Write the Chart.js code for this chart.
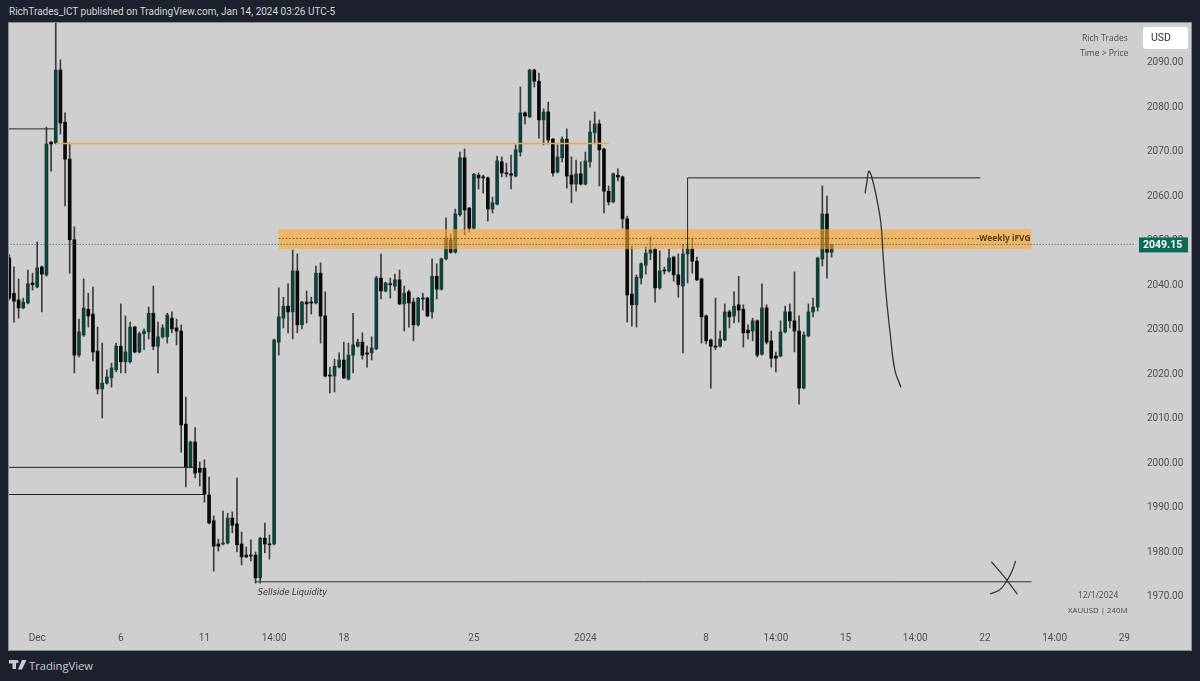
<!DOCTYPE html>
<html>
<head>
<meta charset="utf-8">
<title>XAUUSD 240M</title>
<script src="https://cdn.jsdelivr.net/npm/chart.js@4"></script>
<style>
    html, body { margin: 0; padding: 0; width: 1200px; height: 681px; overflow: hidden; background: #1c212d; }
    #publishLine { position: absolute; left: 9px; top: 6px; font: 10px Roboto, sans-serif; color: #d3d6da; white-space: nowrap; }
    #panel { position: absolute; left: 9px; top: 23px; width: 1182px; height: 627px; background: #cfcfcf; outline: 1px solid #8b8d92; }
    #logo { position: absolute; left: 9px; top: 660px; }
    #brand { position: absolute; left: 29px; top: 658px; font: 11.2px "Open Sans", sans-serif; color: #c9ccd2; }
</style>
</head>
<body>
<div id="publishLine">RichTrades_ICT published on TradingView.com, Jan 14, 2024 03:26 UTC-5</div>
<div id="panel"><canvas id="priceChart" width="1182" height="627"></canvas></div>
<svg id="logo" width="18" height="10" viewBox="0 0 18 10"><path fill="#c9ccd2" d="M0 0h7v9H3.5V3.5H0zM8 0a1.6 1.6 0 1 1 0 3.2A1.6 1.6 0 0 1 8 0zM13 0h4.5L13 9.500H9z"/></svg>
<div id="brand">TradingView</div>
<script>
// XAUUSD 240M candles
const opens = [
    2046.1,2038.2,2036.7,2034.9,2036.0,2040.5,2039.6,2044.1,2042.3,2072.1,
    2071.9,2088.3,2076.6,2068.3,2050.2,2024.3,2028.8,2034.6,2033.5,2025.2,
    2016.7,2018.0,2019.2,2021.0,2026.3,2022.8,2022.8,2030.6,2025.0,2029.1,
    2029.5,2033.7,2026.3,2028.4,2028.4,2032.6,2030.4,2029.7,2008.8,1999.2,
    2004.8,1998.9,1998.9,1992.9,1987.1,1981.9,1981.9,1982.1,1987.7,1986.4,
    1981.9,1979.4,1979.4,1979.4,1974.3,1983.2,1981.9,1981.9,2027.2,2032.6,
    2035.3,2034.0,2043.2,2031.1,2036.2,2036.2,2036.0,2042.7,2033.1,2019.8,
    2019.6,2021.6,2023.2,2018.9,2024.3,2026.3,2027.2,2024.8,2024.8,2025.7,
    2041.6,2038.7,2040.3,2039.8,2041.2,2035.8,2038.5,2036.2,2031.1,2037.1,
    2037.1,2034.0,2042.0,2039.1,2045.9,2050.2,2047.4,2055.8,2068.6,2057.3,
    2052.8,2064.7,2064.3,2064.1,2057.1,2058.2,2067.7,2065.2,2065.0,2064.5,
    2069.9,2078.7,2077.8,2088.3,2085.8,2077.1,2078.9,2072.8,2065.4,2068.6,
    2072.8,2064.7,2062.7,2065.0,2062.7,2067.7,2074.2,2076.2,2070.6,2061.1,
    2058.7,2064.7,2064.3,2054.9,2038.0,2035.6,2041.6,2044.5,2047.2,2048.1,
    2039.4,2043.4,2043.2,2046.3,2042.3,2039.8,2047.0,2048.1,2045.4,2041.4,
    2033.1,2027.7,2026.3,2026.3,2027.7,2034.0,2033.1,2035.6,2034.6,2029.9,
    2029.7,2032.0,2024.5,2034.9,2027.5,2024.1,2024.1,2029.5,2034.0,2032.0,
    2029.7,2016.9,2028.6,2034.0,2035.1,2045.9,2056.0,2047.4
];
const highs = [
    2046.8,2044.1,2041.4,2037.1,2043.4,2042.7,2049.7,2044.3,2075.5,2072.3,
    2103.0,2090.6,2078.7,2071.9,2053.1,2032.4,2041.4,2038.2,2039.6,2030.6,
    2027.0,2021.0,2022.5,2027.0,2035.8,2033.1,2031.7,2030.8,2029.5,2030.2,
    2035.1,2039.8,2031.7,2031.1,2033.7,2034.0,2032.4,2031.1,2014.9,2005.0,
    2008.0,2000.3,2000.8,1996.9,1988.2,1983.0,1989.3,1988.8,1989.1,1996.7,
    1984.6,1981.2,1982.8,1980.1,1983.4,1986.6,1983.9,2027.9,2039.4,2037.3,
    2040.3,2047.9,2047.0,2036.4,2038.7,2037.3,2044.3,2045.0,2038.5,2021.6,
    2023.4,2024.8,2027.2,2027.0,2033.7,2027.9,2029.3,2026.3,2028.4,2042.0,
    2047.0,2040.7,2041.6,2042.5,2043.4,2039.8,2038.9,2037.1,2037.3,2038.2,
    2037.3,2045.9,2044.8,2046.1,2055.1,2051.5,2057.1,2069.9,2070.6,2057.5,
    2065.1,2065.2,2064.7,2064.3,2059.8,2069.0,2068.8,2067.4,2069.2,2071.5,
    2084.5,2078.9,2088.5,2088.5,2087.6,2079.6,2081.1,2073.0,2071.5,2073.3,
    2075.1,2068.8,2068.1,2067.7,2069.9,2076.9,2078.9,2077.1,2070.8,2062.3,
    2065.2,2066.1,2064.5,2055.5,2048.8,2042.3,2045.0,2048.6,2050.8,2048.4,
    2047.7,2044.1,2048.1,2046.5,2047.0,2049.2,2049.0,2050.6,2046.3,2041.6,
    2033.3,2027.9,2037.1,2029.7,2035.8,2034.4,2038.5,2042.0,2035.6,2031.1,
    2032.6,2032.2,2040.3,2035.6,2029.7,2025.0,2032.0,2035.3,2035.8,2043.0,
    2033.1,2029.5,2035.8,2037.1,2046.3,2062.3,2060.0,2049.2
];
const lows = [
    2036.7,2031.7,2032.6,2034.7,2035.8,2038.9,2039.4,2034.0,2042.0,2065.6,
    2071.7,2073.9,2057.8,2042.7,2020.3,2023.9,2028.5,2030.6,2023.0,2015.6,
    2010.2,2017.8,2017.1,2020.5,2020.3,2020.3,2022.5,2024.8,2024.8,2025.5,
    2027.9,2025.5,2020.3,2028.1,2027.0,2029.3,2026.6,2002.5,1994.7,1999.0,
    1996.7,1994.9,1991.3,1986.4,1975.8,1980.3,1981.7,1981.9,1984.4,1980.1,
    1977.2,1978.8,1978.1,1973.1,1973.1,1979.9,1978.5,1981.7,2024.3,2030.4,
    2029.3,2027.9,2029.3,2030.2,2031.5,2033.5,2035.8,2027.0,2019.4,2015.8,
    2016.0,2021.4,2019.0,2018.7,2020.3,2026.1,2023.4,2021.6,2023.2,2025.5,
    2036.9,2038.5,2037.1,2038.9,2035.6,2029.7,2030.6,2027.5,2030.8,2034.4,
    2032.9,2032.6,2036.9,2038.9,2045.7,2047.2,2047.2,2055.5,2051.3,2051.9,
    2052.6,2061.6,2060.7,2054.4,2056.2,2058.0,2064.3,2064.3,2061.6,2064.3,
    2069.0,2076.2,2077.6,2084.5,2073.0,2071.5,2071.7,2064.5,2065.2,2067.7,
    2061.8,2058.5,2061.1,2062.5,2062.5,2066.5,2071.9,2062.3,2056.2,2058.0,
    2058.5,2063.4,2052.8,2031.7,2030.8,2030.6,2040.3,2042.5,2045.7,2036.2,
    2039.1,2042.5,2042.9,2040.9,2037.3,2024.8,2040.5,2042.7,2041.0,2027.0,
    2026.8,2016.9,2025.5,2026.1,2027.5,2030.4,2031.5,2031.7,2026.1,2027.9,
    2027.5,2023.9,2024.3,2026.8,2021.6,2020.5,2023.9,2029.3,2030.4,2025.0,
    2013.3,2016.7,2028.4,2032.9,2034.2,2044.3,2041.6,2046.3
];
const closes = [
    2037.1,2036.4,2034.9,2036.2,2040.3,2040.1,2043.9,2042.5,2071.7,2071.7,
    2088.3,2076.4,2068.3,2050.2,2024.3,2029.5,2034.9,2033.1,2025.0,2016.7,
    2018.0,2019.4,2021.4,2026.3,2022.8,2025.0,2030.6,2025.0,2029.1,2029.7,
    2033.7,2026.3,2028.4,2030.4,2033.3,2030.2,2029.7,2008.6,1999.2,2004.8,
    1997.8,1998.0,1993.1,1986.6,1981.4,1981.4,1982.1,1987.7,1986.1,1981.7,
    1979.0,1979.0,1979.2,1974.3,1983.2,1981.9,1981.7,2027.7,2032.9,2035.3,
    2034.0,2043.2,2031.1,2036.2,2035.8,2036.0,2042.7,2033.1,2019.6,2019.6,
    2021.8,2023.2,2019.2,2024.3,2026.6,2027.2,2024.3,2024.5,2025.9,2041.6,
    2038.7,2040.5,2040.1,2041.2,2035.8,2038.2,2036.0,2031.1,2037.1,2036.9,
    2033.1,2042.0,2039.1,2045.9,2050.6,2047.4,2056.0,2068.6,2056.9,2052.8,
    2064.9,2064.1,2064.1,2057.1,2058.5,2067.9,2065.2,2065.0,2064.7,2070.4,
    2078.7,2078.0,2088.3,2085.8,2077.1,2078.9,2072.6,2065.2,2068.8,2072.8,
    2064.5,2062.7,2065.0,2062.7,2067.9,2074.4,2076.2,2070.4,2061.1,2058.7,
    2065.0,2064.3,2054.9,2037.8,2035.6,2041.8,2044.8,2047.2,2047.9,2039.4,
    2043.2,2043.2,2046.1,2042.3,2040.1,2047.0,2048.1,2045.4,2041.2,2032.9,
    2027.5,2026.3,2026.1,2027.9,2034.0,2032.9,2035.3,2034.4,2029.3,2029.3,
    2032.0,2024.3,2034.9,2027.2,2023.6,2023.6,2029.5,2034.0,2032.0,2029.7,
    2016.9,2028.8,2034.0,2035.1,2046.1,2056.0,2047.4,2049.15
];

// axes
const priceTicks = [1970, 1980, 1990, 2000, 2010, 2020, 2030, 2040, 2050, 2060, 2070, 2080, 2090];
const timeTickBars = [6, 24, 42, 57, 72, 100, 124, 150, 165, 180, 195, 210, 225, 240];
const timeTickLabels = ['Dec', '6', '11', '14:00', '18', '25', '2024', '8', '14:00', '15', '14:00', '22', '14:00', '29'];
const lastPrice = 2049.15;

// drawn levels: [bar, price] pairs
const highLevel = [[-1, 2075.1], [10, 2075.1]];
const orangeLevel = [[10, 2071.8], [129, 2071.8]];
const lowLevelA = [[-1, 1999.1], [40, 1999.1]];
const lowLevelB = [[-1, 1993.0], [42, 1993.0]];
const sellsideLevel = [[53, 1973.4], [220, 1973.4]];
const rangeLevel = [[146, 2048], [146, 2064.1], [209, 2064.1]];
const ifvgMidLevel = [[58, 2050.5], [208, 2050.5]];
const lastPriceLine = [[-1, lastPrice], [243, lastPrice]];

// freehand projection and the X at the target
const projectionPath = [[184.2, 2060.6], [184.6, 2063.2], [185.0, 2065.6], [185.6, 2064.4], [186.7, 2059.5], [187.6, 2053.9], [188.1, 2046.4], [188.7, 2038.2], [189.6, 2029.2], [190.6, 2021.0], [191.9, 2017.1]];
const crossStrokeA = [[211.4, 1977.9], [214.7, 1973.8], [217.0, 1970.6]];
const crossStrokeB = [[216.6, 1978.1], [215.8, 1975.7], [214.7, 1973.6], [213.2, 1971.6], [211.1, 1970.7]];

// weekly iFVG zone
const zoneBars = [58, 220];
const zonePrices = [2052.6, 2048.1];

const UP_COLOR = '#10403a';
const DOWN_COLOR = '#0a0a0a';

// turn [bar, price] pairs into a line dataset
function levelDataset(points, color, width, extra) {
    return Object.assign({
        type: 'line',
        data: points.map(p => ({ x: p[0], y: p[1] })),
        borderColor: color,
        borderWidth: width,
        pointRadius: 0,
        order: 1
    }, extra || {});
}

// zone goes over the candles but under the lines
const zonePlugin = {
    id: 'zonePlugin',
    afterDatasetDraw(chart, args) {
        if (args.index !== 1) return;
        const { ctx, scales } = chart;
        const left = scales.x.getPixelForValue(zoneBars[0]);
        const right = scales.x.getPixelForValue(zoneBars[1]);
        const top = scales.y.getPixelForValue(zonePrices[0]);
        const bottom = scales.y.getPixelForValue(zonePrices[1]);
        ctx.save();
        ctx.fillStyle = 'rgba(255, 165, 40, 0.6)';
        ctx.fillRect(left, top, right - left, bottom - top);
        ctx.restore();
    }
};

// labels, price tag and USD box
const labelPlugin = {
    id: 'labelPlugin',
    afterDraw(chart) {
        const { ctx, scales } = chart;
        ctx.save();
        ctx.textBaseline = 'middle';

        ctx.fillStyle = '#5b3c12';
        ctx.font = 'bold 8.4px "Open Sans", sans-serif';
        ctx.fillText('-Weekly iFVG', scales.x.getPixelForValue(208.2), scales.y.getPixelForValue(2050.5));

        ctx.fillStyle = '#333333';
        ctx.font = 'italic 8.2px "DejaVu Sans", sans-serif';
        ctx.fillText('Sellside Liquidity', scales.x.getPixelForValue(53.5), scales.y.getPixelForValue(1971.0));

        ctx.fillStyle = '#4a4a4a';
        ctx.font = '8.5px "Open Sans", sans-serif';
        ctx.fillText('Rich Trades', 1073, 16);
        ctx.fillText('Time > Price', 1071, 31);
        ctx.fillText('12/1/2024', 1069, 573);
        ctx.font = '7.8px "Open Sans", sans-serif';
        ctx.fillText('XAUUSD | 240M', 1059, 588);

        // last price tag
        const tagY = scales.y.getPixelForValue(lastPrice);
        ctx.fillStyle = '#0b6a58';
        ctx.fillRect(1130, tagY - 7, 49, 15);
        ctx.fillStyle = '#ffffff';
        ctx.font = 'bold 10.5px Roboto, sans-serif';
        ctx.fillText('2049.15', 1134, tagY + 1);

        // currency box
        ctx.fillStyle = '#ffffff';
        ctx.beginPath();
        ctx.roundRect(1134, 4, 45, 22, 3);
        ctx.fill();
        ctx.fillStyle = '#333333';
        ctx.font = '10.5px Roboto, sans-serif';
        ctx.fillText('USD', 1142, 15);
        ctx.restore();
    }
};

// labels sit inside the panel, so no scale may reserve margin for them
function clearScalePadding(scale) {
    scale.paddingTop = 0;
    scale.paddingBottom = 0;
    scale.paddingLeft = 0;
    scale.paddingRight = 0;
}

function initChart() {
    const ctx = document.getElementById('priceChart').getContext('2d');
    const bars = opens.map((_, i) => i);

    return new Chart(ctx, {
        type: 'bar',
        data: {
            datasets: [
                {
                    // wicks
                    data: bars.map(i => ({ x: i, y: [lows[i], highs[i]] })),
                    backgroundColor: '#3c3c3c',
                    barThickness: 1,
                    grouped: false,
                    order: 3
                },
                {
                    // bodies
                    data: bars.map(i => ({ x: i, y: [opens[i], closes[i]] })),
                    backgroundColor: bars.map(i => closes[i] >= opens[i] ? UP_COLOR : DOWN_COLOR),
                    barThickness: 3,
                    minBarLength: 1,
                    grouped: false,
                    order: 2
                },
                levelDataset(highLevel, '#2b2b2b', 1),
                levelDataset(orangeLevel, '#e6a850', 1.5),
                levelDataset(lowLevelA, '#1c1c1c', 1),
                levelDataset(lowLevelB, '#1c1c1c', 1),
                levelDataset(sellsideLevel, '#333333', 1),
                levelDataset(rangeLevel, '#222222', 1),
                levelDataset(ifvgMidLevel, '#7a4a10', 1, { borderDash: [1.5, 2] }),
                levelDataset(lastPriceLine, '#15695c', 1, { borderDash: [1, 2] }),
                levelDataset(projectionPath, '#333333', 1.3, { tension: 0.4 }),
                levelDataset(crossStrokeA, '#333333', 1.2, { tension: 0.3 }),
                levelDataset(crossStrokeB, '#333333', 1.2, { tension: 0.4 })
            ]
        },
        options: {
            responsive: false,
            animation: false,
            devicePixelRatio: 1,
            events: [],
            plugins: {
                legend: { display: false },
                tooltip: { enabled: false }
            },
            scales: {
                x: {
                    type: 'linear',
                    offset: false,
                    min: -0.065,
                    max: 242.3,
                    grid: { display: false, drawTicks: false },
                    border: { display: false },
                    afterBuildTicks(scale) {
                        scale.ticks = timeTickBars.map(v => ({ value: v }));
                    },
                    afterFit(scale) {
                        scale.height = 25;
                        clearScalePadding(scale);
                    },
                    ticks: {
                        autoSkip: false,
                        maxRotation: 0,
                        padding: 7,
                        color: '#4f4f4f',
                        font: { family: 'Roboto', size: 10 },
                        callback: (value, index) => timeTickLabels[index]
                    }
                },
                y: {
                    position: 'right',
                    min: 1963.7,
                    max: 2098.87,
                    grid: { display: false, drawTicks: false },
                    border: { display: false },
                    afterBuildTicks(scale) {
                        scale.ticks = priceTicks.map(v => ({ value: v }));
                    },
                    afterFit(scale) {
                        scale.width = 56;
                        clearScalePadding(scale);
                    },
                    ticks: {
                        padding: 12,
                        color: '#4f4f4f',
                        font: { family: 'Roboto', size: 10 },
                        callback: value => value.toFixed(2)
                    }
                }
            }
        },
        plugins: [zonePlugin, labelPlugin]
    });
}

initChart();
</script>
</body>
</html>
